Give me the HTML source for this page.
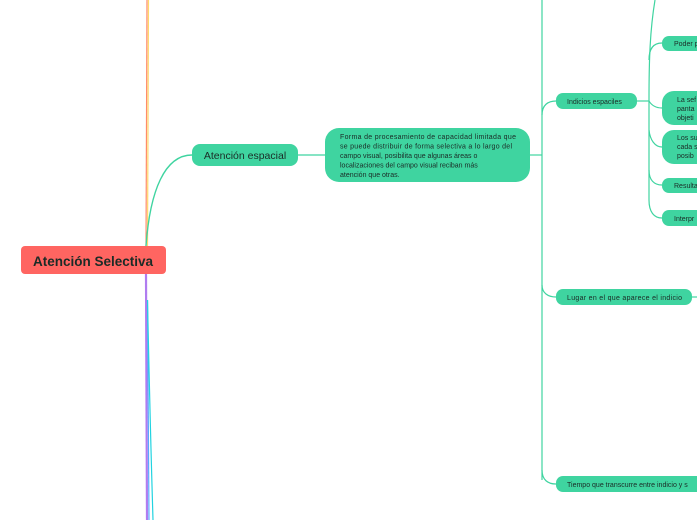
<!DOCTYPE html>
<html><head><meta charset="utf-8"><style>
html,body{margin:0;padding:0;background:#fff;width:697px;height:520px;overflow:hidden}
svg{display:block}
text{font-family:"Liberation Sans","DejaVu Sans",sans-serif;fill:#1b2b26}
</style></head><body>
<svg width="697" height="520" viewBox="0 0 697 520" xmlns="http://www.w3.org/2000/svg">
<g fill="none" stroke-width="1.2">
<path d="M146 246 L147 0" stroke="#ff8c69"/>
<path d="M147.5 246 L148.5 0" stroke="#ffd86b"/>
<path d="M146 274 L147 520" stroke="#b07cf0" stroke-width="2.2"/>
<path d="M147.5 300 L149 520" stroke="#5aa8ff"/>
<path d="M147.5 300 Q150 420 153 520" stroke="#22d3e0"/>
<path d="M146 246 C150 190 165 155 192 155" stroke="#3fd4a0" stroke-width="1.4"/>
<path d="M298 155 L325 155" stroke="#3fd4a0"/>
<path d="M530 155 L542 155" stroke="#3fd4a0"/>
<path d="M542 0 L542 480" stroke="#3fd4a0"/>
<path d="M542 115 C542 105 548 101 556 101" stroke="#3fd4a0"/>
<path d="M542 285 C542 293 548 297 556 297" stroke="#3fd4a0"/>
<path d="M542 470 C542 480 548 484 556 484" stroke="#3fd4a0"/>
<path d="M637 101 L649 101" stroke="#3fd4a0"/>
<path d="M692 297 L697 297" stroke="#3fd4a0"/>
<path d="M655 0 C650 30 649 60 649 100 L649 200 C649 212 654 218 662 218" stroke="#3fd4a0"/>
<path d="M649 60 C649 48 654 43 662 43" stroke="#3fd4a0"/>
<path d="M649 101 C652 106 656 108 662 108" stroke="#3fd4a0"/>
<path d="M649 130 C650 140 655 147 662 147" stroke="#3fd4a0"/>
<path d="M649 170 C649 180 654 185 662 185" stroke="#3fd4a0"/>
</g>
<rect x="21" y="246" width="145" height="28" rx="4" fill="#ff6561"/>
<text x="93" y="266" font-size="13.5" font-weight="bold" text-anchor="middle" fill="#111">Atención Selectiva</text>
<g fill="#3fd4a0">
<rect x="192" y="144" width="106" height="22" rx="8"/>
<rect x="325" y="128" width="205" height="54" rx="14"/>
<rect x="556" y="93" width="81" height="16" rx="7"/>
<rect x="556" y="289" width="136" height="16" rx="7"/>
<rect x="556" y="476" width="150" height="16" rx="7"/>
<rect x="662" y="36" width="50" height="15" rx="7"/>
<rect x="662" y="91" width="50" height="34" rx="12"/>
<rect x="662" y="130" width="50" height="34" rx="12"/>
<rect x="662" y="178" width="50" height="15" rx="7"/>
<rect x="662" y="210" width="50" height="16" rx="7"/>
</g>
<text x="245" y="159" font-size="10.5" text-anchor="middle">Atención espacial</text>
<g font-size="7">
<text x="340" y="139" textLength="176">Forma de procesamiento de capacidad limitada que</text>
<text x="340" y="148.5" textLength="172">se puede distribuir de forma selectiva a lo largo del</text>
<text x="340" y="158">campo visual, posibilita que algunas áreas o</text>
<text x="340" y="167.5">localizaciones del campo visual reciban más</text>
<text x="340" y="177">atención que otras.</text>
<text x="567" y="104">Indicios espaciles</text>
<text x="567" y="300" textLength="115">Lugar en el que aparece el indicio</text>
<text x="567" y="487">Tiempo que transcurre entre indicio y s</text>
<text x="674" y="46">Poder p</text>
<text x="677" y="102">La sef</text>
<text x="677" y="111">panta</text>
<text x="677" y="120">objeti</text>
<text x="677" y="140">Los su</text>
<text x="677" y="149">cada s</text>
<text x="677" y="158">posib</text>
<text x="674" y="188">Resulta</text>
<text x="674" y="221">Interpr</text>
</g>
</svg>
</body></html>
